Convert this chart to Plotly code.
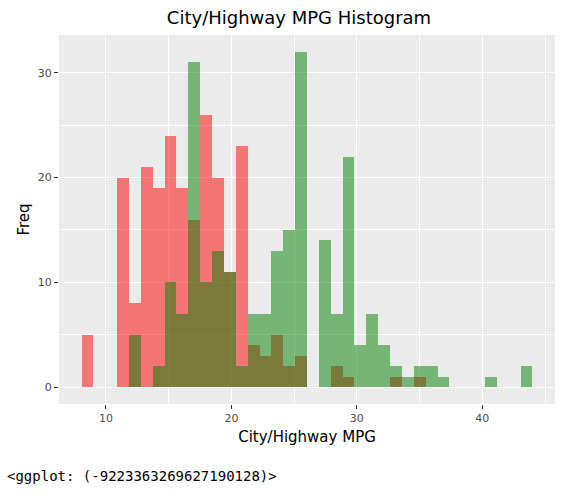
import numpy as np
import plotly.graph_objects as go

# mpg dataset: value -> count for city and highway mileage
cty_values = [9, 11, 12, 13, 14, 15, 16, 17, 18, 19, 20, 21, 22, 23, 24, 25, 26, 28, 29, 33, 35]
cty_counts = [5, 20, 8, 21, 19, 24, 19, 16, 26, 20, 11, 23, 4, 3, 5, 2, 3, 2, 1, 1, 1]

hwy_values = [12, 14, 15, 16, 17, 18, 19, 20, 21, 22, 23, 24, 25, 26, 27, 28, 29,
              30, 31, 32, 33, 34, 35, 36, 37, 41, 44]
hwy_counts = [5, 2, 10, 7, 31, 10, 13, 11, 2, 7, 7, 13, 15, 32, 14, 7, 22,
              4, 7, 4, 2, 1, 2, 2, 1, 1, 2]

cty = np.repeat(cty_values, cty_counts)
hwy = np.repeat(hwy_values, hwy_counts)

# plotnine-like binning: 38 bins over the joint range, right-closed
lo = min(cty.min(), hwy.min())
hi = max(cty.max(), hwy.max())
bins = 38
width = (hi - lo) / (bins - 1)
eps = 1e-6
xbins = dict(start=lo - width + eps, end=hi + eps, size=width)

x_lo, x_hi = lo - width, hi
pad = (x_hi - x_lo) * 0.05
ymax = 32
ypad = ymax * 0.05

fig = go.Figure()
fig.add_trace(go.Histogram(x=cty, xbins=xbins, marker=dict(color="rgba(255,0,0,0.5)", line=dict(width=0)),
                           name="cty"))
fig.add_trace(go.Histogram(x=hwy, xbins=xbins, marker=dict(color="rgba(0,128,0,0.5)", line=dict(width=0)),
                           name="hwy"))

axis_font = dict(family="DejaVu Sans", size=11, color="#4D4D4D")
fig.update_layout(
    barmode="overlay",
    bargap=0,
    width=588, height=495,
    margin=dict(l=59, r=33, t=35, b=91),
    paper_bgcolor="white",
    plot_bgcolor="#EBEBEB",
    showlegend=False,
    title=dict(text="City/Highway MPG Histogram", x=299 / 588, xanchor="center",
               yref="container", y=1 - 18 / 495, yanchor="middle",
               font=dict(family="DejaVu Sans", size=18, color="black")),
    font=dict(family="DejaVu Sans"),
)
fig.update_xaxes(
    range=[x_lo - pad, x_hi + pad],
    tickvals=[10, 20, 30, 40],
    ticks="outside", ticklen=4, tickcolor="#333333", tickwidth=1,
    tickfont=axis_font,
    showgrid=True, gridcolor="white", gridwidth=1.4,
    minor=dict(tickvals=[5, 15, 25, 35, 45], showgrid=True, gridcolor="white", gridwidth=0.7, ticks=""),
    zeroline=False, showline=False, automargin=False,
    title=dict(text="City/Highway MPG", font=dict(family="DejaVu Sans", size=15, color="black"), standoff=7),
)
fig.update_yaxes(
    range=[-ypad, ymax + ypad],
    tickvals=[0, 10, 20, 30],
    ticks="outside", ticklen=4, tickcolor="#333333", tickwidth=1,
    tickfont=axis_font,
    showgrid=True, gridcolor="white", gridwidth=1.4,
    minor=dict(tickvals=[5, 15, 25], showgrid=True, gridcolor="white", gridwidth=0.7, ticks=""),
    zeroline=False, showline=False, automargin=False,
    title=dict(text="Freq", font=dict(family="DejaVu Sans", size=15, color="black"), standoff=4),
)
fig.add_annotation(
    text="&lt;ggplot: (-9223363269627190128)&gt;",
    xref="paper", yref="paper", x=-54 / 496, y=-72 / 369, xanchor="left", yanchor="middle",
    showarrow=False, font=dict(family="DejaVu Sans Mono", size=14, color="black"),
)

# drop the default page margin so the figure sits at the window corner
fig.write_html("out.html", config={"displayModeBar": False},
               post_script="document.body.style.margin = '0';")
